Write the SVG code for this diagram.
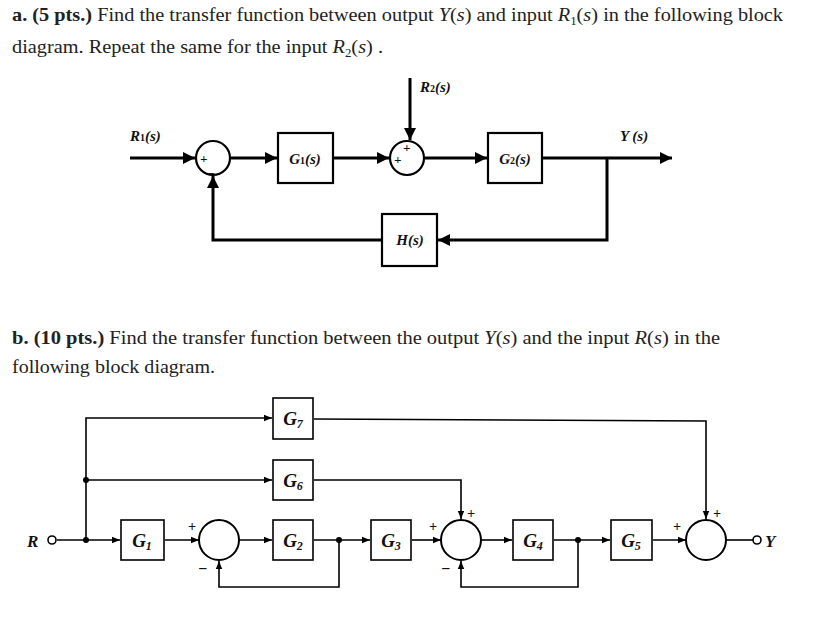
<svg xmlns="http://www.w3.org/2000/svg" width="822" height="620" viewBox="0 0 822 620">
<style>
.t{font-family:"Liberation Serif","Times New Roman","DejaVu Serif",serif;font-size:19px;fill:#222}
.l{font-family:"Liberation Serif","Times New Roman",serif;font-style:italic;font-weight:bold;fill:#111}
.thick{stroke:#000;stroke-width:3;fill:none}
.thin{stroke:#000;stroke-width:1.6;fill:none}
.box{fill:#fff;stroke:#000;stroke-width:1.6}
.bbox{fill:#fff;stroke:#000;stroke-width:2.2}
</style>
<defs>
<marker id="a" viewBox="0 0 10 10" refX="10" refY="5" markerWidth="6" markerHeight="4" orient="auto" markerUnits="strokeWidth"><path d="M0,0L10,5L0,10z"/></marker>
<marker id="b" viewBox="0 0 10 10" refX="10" refY="5" markerWidth="7" markerHeight="5" orient="auto" markerUnits="strokeWidth"><path d="M0,1L10,5L0,9z"/></marker>
</defs>
<rect width="822" height="620" fill="#fff"/>
<text class="t" x="12" y="21" textLength="771" lengthAdjust="spacingAndGlyphs"><tspan font-weight="bold">a. (5 pts.)</tspan> Find the transfer function between output <tspan font-style="italic">Y</tspan>(<tspan font-style="italic">s</tspan>) and input <tspan font-style="italic">R</tspan><tspan font-size="12" dy="4">1</tspan><tspan dy="-4">(</tspan><tspan font-style="italic">s</tspan>) in the following block</text>
<text class="t" x="12" y="53" textLength="371" lengthAdjust="spacingAndGlyphs">diagram. Repeat the same for the input <tspan font-style="italic">R</tspan><tspan font-size="12" dy="4">2</tspan><tspan dy="-4">(</tspan><tspan font-style="italic">s</tspan>) .</text>
<text class="t" x="12" y="344" textLength="708" lengthAdjust="spacingAndGlyphs"><tspan font-weight="bold">b. (10 pts.)</tspan> Find the transfer function between the output <tspan font-style="italic">Y</tspan>(<tspan font-style="italic">s</tspan>) and the input <tspan font-style="italic">R</tspan>(<tspan font-style="italic">s</tspan>) in the</text>
<text class="t" x="12" y="373" textLength="203" lengthAdjust="spacingAndGlyphs">following block diagram.</text>

<g id="conn-a">
<line class="thick" x1="130" y1="158" x2="195" y2="158" marker-end="url(#a)"/>
<line class="thick" x1="231" y1="158" x2="277" y2="158" marker-end="url(#a)"/>
<line class="thick" x1="334" y1="158" x2="389" y2="158" marker-end="url(#a)"/>
<line class="thick" x1="410" y1="78" x2="410" y2="140" marker-end="url(#a)"/>
<line class="thick" x1="425" y1="158" x2="487" y2="158" marker-end="url(#a)"/>
<line class="thick" x1="543" y1="158" x2="672" y2="158" marker-end="url(#a)"/>
<polyline class="thick" points="607,158 607,240 438,240" marker-end="url(#a)"/>
<polyline class="thick" points="382,240 213,240 213,176" marker-end="url(#a)"/>
</g>
<g id="sum-a1"><circle cx="213" cy="158" r="17" fill="#fff" stroke="#000" stroke-width="2.2"/><text class="l" x="200" y="163" font-size="13" font-style="normal">+</text><text class="l" x="209" y="172" font-size="12" font-style="normal">_</text></g>
<g id="sum-a2"><circle cx="407" cy="158" r="17" fill="#fff" stroke="#000" stroke-width="2.2"/><text class="l" x="394" y="164" font-size="13" font-style="normal">+</text><text class="l" x="403" y="152" font-size="13" font-style="normal">+</text></g>
<g id="G1s"><rect class="bbox" x="278" y="133" width="55" height="50"/><text class="l" x="305" y="164" font-size="15" text-anchor="middle" font-weight="normal">G<tspan font-size="10" font-style="normal">1</tspan>(s)</text></g>
<g id="G2s"><rect class="bbox" x="488" y="133" width="54" height="50"/><text class="l" x="515" y="164" font-size="15" text-anchor="middle" font-weight="normal">G<tspan font-size="10" font-style="normal">2</tspan>(s)</text></g>
<g id="Hs"><rect class="bbox" x="382" y="214" width="55" height="52"/><text class="l" x="410" y="245" font-size="15" text-anchor="middle">H(s)</text></g>
<text class="l" x="130" y="141" font-size="15">R<tspan font-size="10" font-style="normal">1</tspan>(s)</text>
<text class="l" x="420" y="92" font-size="15">R<tspan font-size="10" font-style="normal">2</tspan>(s)</text>
<text class="l" x="620" y="141" font-size="15" font-weight="normal">Y (s)</text>

<g id="conn-b">
<line class="thin" x1="57" y1="540" x2="120" y2="540" marker-end="url(#b)"/>
<polyline class="thin" points="86,540 86,418 272,418" marker-end="url(#b)"/>
<line class="thin" x1="86" y1="480" x2="272" y2="480" marker-end="url(#b)"/>
<line class="thin" x1="165" y1="540" x2="199" y2="540" marker-end="url(#b)"/>
<line class="thin" x1="239" y1="540" x2="272" y2="540" marker-end="url(#b)"/>
<line class="thin" x1="314" y1="540" x2="370" y2="540" marker-end="url(#b)"/>
<polyline class="thin" points="339,540 339,587 219,587 219,561" marker-end="url(#b)"/>
<line class="thin" x1="412" y1="540" x2="441" y2="540" marker-end="url(#b)"/>
<polyline class="thin" points="314,480 461,480 461,519" marker-end="url(#b)"/>
<line class="thin" x1="481" y1="540" x2="512" y2="540" marker-end="url(#b)"/>
<line class="thin" x1="554" y1="540" x2="610" y2="540" marker-end="url(#b)"/>
<polyline class="thin" points="578,540 578,587 461,587 461,561" marker-end="url(#b)"/>
<line class="thin" x1="653" y1="540" x2="686" y2="540" marker-end="url(#b)"/>
<polyline class="thin" points="314,419 706,421 706,519" marker-end="url(#b)"/>
<line class="thin" x1="726" y1="540" x2="753" y2="540"/>
<circle cx="86" cy="540" r="3"/><circle cx="86" cy="480" r="3"/><circle cx="339" cy="540" r="3"/><circle cx="578" cy="540" r="3"/>
<circle cx="52" cy="540" r="4" fill="#fff" stroke="#000" stroke-width="1.6"/>
<circle cx="757" cy="540" r="4" fill="#fff" stroke="#000" stroke-width="1.6"/>
</g>
<g id="s1"><circle cx="219" cy="540" r="20" fill="#fff" stroke="#000" stroke-width="2"/><text class="l" x="188" y="531" font-size="14" font-style="normal">+</text><text class="l" x="198" y="574" font-size="16" font-style="normal">−</text></g>
<g id="s2"><circle cx="461" cy="540" r="20" fill="#fff" stroke="#000" stroke-width="2"/><text class="l" x="429" y="531" font-size="14" font-style="normal">+</text><text class="l" x="467" y="518" font-size="14" font-style="normal">+</text><text class="l" x="441" y="574" font-size="16" font-style="normal">−</text></g>
<g id="s3"><circle cx="706" cy="540" r="20" fill="#fff" stroke="#000" stroke-width="2"/><text class="l" x="673" y="531" font-size="14" font-style="normal">+</text><text class="l" x="713" y="518" font-size="14" font-style="normal">+</text></g>
<g id="G1"><rect class="box" x="121" y="520" width="43" height="40"/><text class="l" x="142" y="547" font-size="19" text-anchor="middle">G<tspan font-size="12" dy="3">1</tspan></text></g>
<g id="G2"><rect class="box" x="273" y="520" width="40" height="40"/><text class="l" x="293" y="547" font-size="19" text-anchor="middle">G<tspan font-size="12" dy="3">2</tspan></text></g>
<g id="G3"><rect class="box" x="371" y="520" width="40" height="40"/><text class="l" x="391" y="547" font-size="19" text-anchor="middle">G<tspan font-size="12" dy="3">3</tspan></text></g>
<g id="G4"><rect class="box" x="513" y="520" width="40" height="40"/><text class="l" x="533" y="547" font-size="19" text-anchor="middle">G<tspan font-size="12" dy="3">4</tspan></text></g>
<g id="G5"><rect class="box" x="611" y="520" width="41" height="40"/><text class="l" x="631" y="547" font-size="19" text-anchor="middle">G<tspan font-size="12" dy="3">5</tspan></text></g>
<g id="G6"><rect class="box" x="273" y="460" width="40" height="40"/><text class="l" x="293" y="487" font-size="19" text-anchor="middle">G<tspan font-size="12" dy="3">6</tspan></text></g>
<g id="G7"><rect class="box" x="273" y="398" width="40" height="41"/><text class="l" x="293" y="425" font-size="19" text-anchor="middle">G<tspan font-size="12" dy="3">7</tspan></text></g>
<text class="l" x="27" y="547" font-size="17">R</text>
<text class="l" x="765" y="547" font-size="17">Y</text>
</svg>
